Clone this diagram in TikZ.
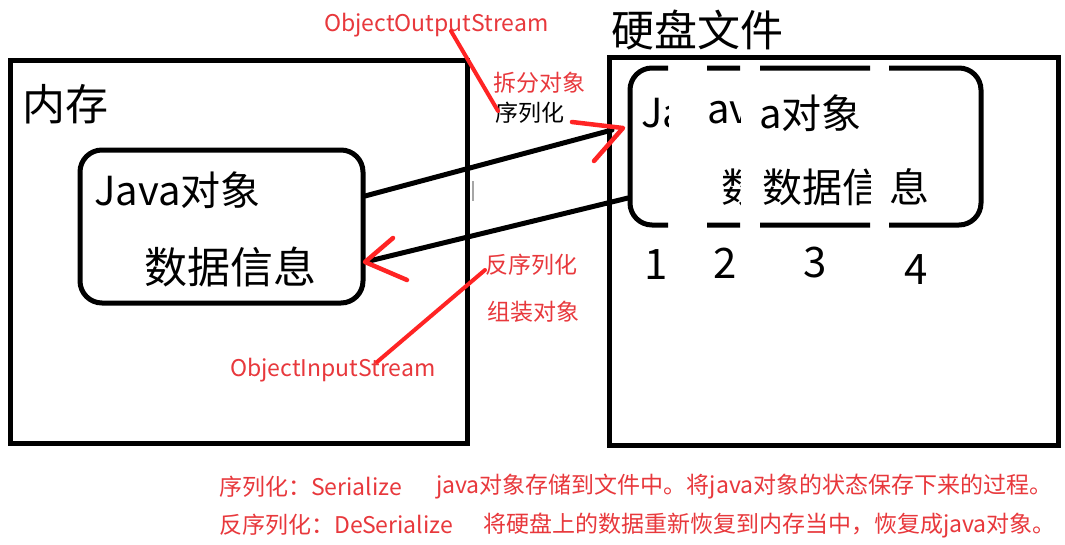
\documentclass[tikz,border=0pt]{standalone}
\usepackage{fontspec}
\setmainfont{Noto Sans CJK SC}
\definecolor{tred}{RGB}{232,56,60}
\definecolor{lred}{RGB}{255,36,36}
\begin{document}
\begin{tikzpicture}[x=1pt,y=-1pt,
  box/.style={draw=black,line width=5pt},
  blk/.style={draw=black,line width=5pt,line cap=round},
  redline/.style={draw=lred,line width=4.5pt,line cap=round},
  big/.style={anchor=west,inner sep=0pt,font=\fontsize{43}{43}\selectfont},
  mid/.style={anchor=west,inner sep=0pt,font=\fontsize{40}{40}\selectfont},
  num/.style={inner sep=0pt,font=\fontsize{42}{42}\selectfont},
  redtxt/.style={anchor=west,inner sep=0pt,text=tred,font=\fontsize{23}{23}\selectfont},
  blktxt/.style={anchor=west,inner sep=0pt,text=black,font=\fontsize{23}{23}\selectfont}]
\useasboundingbox (0,0) rectangle (1065,544);
\fill[white] (0,0) rectangle (1065,544);

% memory box
\draw[box] (10,60) rectangle (467,443);
\node[big] (mem) at (22,104) {内存};
\draw[box,rounded corners=22pt] (80,150) rectangle (363,303);
\coordinate (lobjA) at (365,196);
\coordinate (lobjB) at (365,262);
\node[mid] (ljava) at (94,190) {Java对象};
\node[big] (ldata) at (144,267) {数据信息};

% disk box
\draw[box] (609,57) rectangle (1058,445);
\node[big] (disk) at (611,30) {硬盘文件};

% dashed object box (cut into strips)
\begin{scope}
  \clip (620,60) rectangle (668,235) (707,60) rectangle (740,235) (760,60) rectangle (870,235) (889,60) rectangle (990,235);
  \draw[box,rounded corners=22pt] (630,68) rectangle (981,225);
\end{scope}
\begin{scope}
  \clip (620,60) rectangle (668,235);
  \node[mid] (p1) at (641,113) {Ja};
\end{scope}
\begin{scope}
  \clip (707,60) rectangle (740,235);
  \node[mid] (p2) at (707,113) {av};
  \node[mid] (p2b) at (721,187) {数};
\end{scope}
\begin{scope}
  \clip (760,60) rectangle (870,235);
  \node[mid] (p3) at (759,113) {a对象};
  \node[mid] (p3b) at (762,187) {数据信息};
\end{scope}
\begin{scope}
  \clip (889,60) rectangle (990,235);
  \node[mid] (p4b) at (889,187) {息};
\end{scope}
\coordinate (robjA) at (612,130);
\coordinate (robjB) at (628,198);

\node[num] (n1) at (656,265) {1};
\node[num] (n2) at (725,263) {2};
\node[num] (n3) at (815,263) {3};
\node[num] (n4) at (916,270) {4};

% arrows
\draw[blk] (lobjA) -- (robjA);
\coordinate (tipA) at (623,128);
\coordinate (armA1) at (572,122);
\coordinate (armA2) at (594,161);
\draw[redline,line join=round] (armA1) -- (tipA) -- (armA2);

\draw[blk] (robjB) -- (lobjB);
\coordinate (armB1) at (393,238);
\coordinate (armB2) at (407,280);
\draw[redline,line join=round] (armB1) -- (lobjB) -- (armB2);

% labels
\node[redtxt] (oos) at (324,25) {ObjectOutputStream};
\node[redtxt] (split) at (493,83) {拆分对象};
\node[blktxt] (ser) at (495,113) {序列化};
\coordinate (oosp) at (451,31);
\coordinate (serp) at (498,111);
\draw[redline,line width=4pt] (oosp) -- (serp);

\node[redtxt] (deser) at (485,265) {反序列化};
\node[redtxt] (assem) at (487,312) {组装对象};
\node[redtxt] (ois) at (230,370) {ObjectInputStream};
\coordinate (deserp) at (485,270);
\coordinate (oisp) at (377,362);
\draw[redline,line width=4pt] (deserp) -- (oisp);

\draw[gray!70,line width=1.2pt] (473,181) -- (473,201);

% bottom notes
\node[redtxt] (l1a) at (219,487) {序列化：Serialize};
\node[redtxt] (l1b) at (436,487) {java对象存储到文件中。将java对象的状态保存下来的过程。};
\node[redtxt] (l2a) at (219,525) {反序列化：DeSerialize};
\node[redtxt] (l2b) at (483,525) {将硬盘上的数据重新恢复到内存当中，恢复成java对象。};
\end{tikzpicture}
\end{document}
